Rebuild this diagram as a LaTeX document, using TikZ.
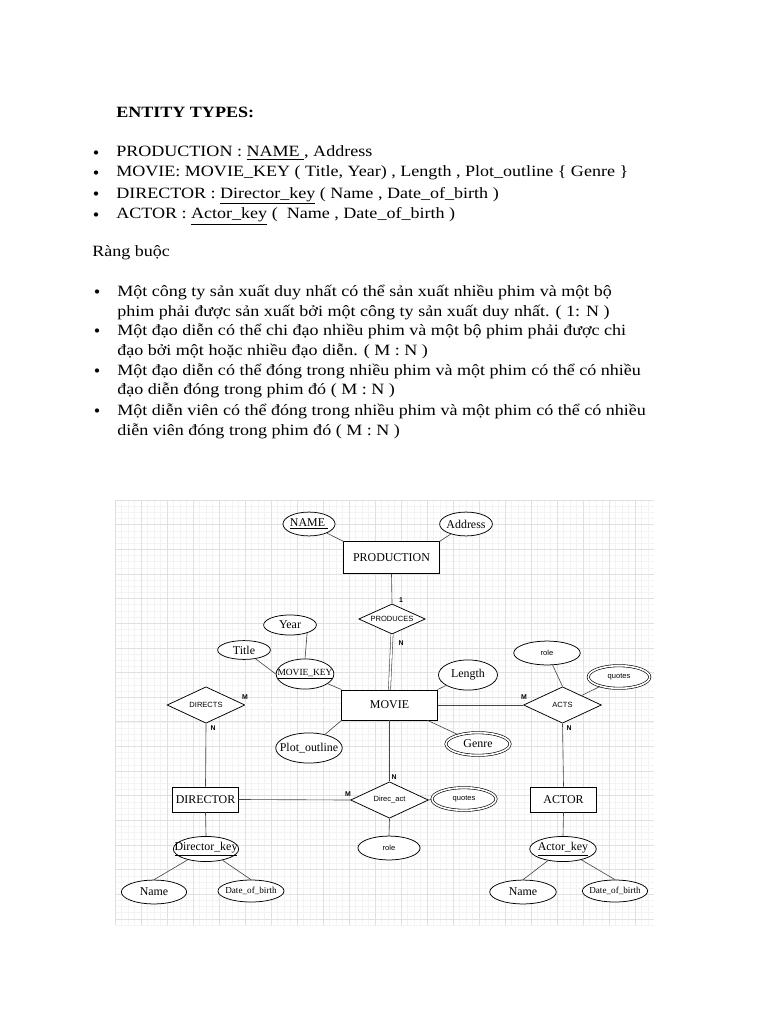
\documentclass[tikz,border=0pt]{standalone}
\usepackage{fontspec}
\usetikzlibrary{shapes.geometric}
\setmainfont{Liberation Serif}
\newfontfamily\bodyfont{Liberation Serif}[FakeStretch=1.15]
\newfontfamily\ersans{Liberation Sans}
\definecolor{gridminor}{RGB}{243,243,243}
\definecolor{gridmajor}{RGB}{224,224,224}
\definecolor{linkgray}{RGB}{70,70,70}
\newcommand{\zw}[1]{\makebox[0pt]{#1}}

\tikzset{
  txt/.style={anchor=base west,inner sep=0pt,font=\bodyfont\fontsize{12.5pt}{15pt}\selectfont},
  bdot/.style={circle,fill=black,inner sep=0pt,minimum size=3.4pt},
  entity/.style={draw,fill=white,rectangle,inner sep=0pt,line width=0.6pt,font=\fontsize{9.5pt}{11pt}\selectfont},
  attr/.style={draw,fill=white,ellipse,inner sep=0pt,line width=0.6pt,font=\fontsize{9.5pt}{11pt}\selectfont},
  mattr/.style={attr,double,double distance=1.3pt,line width=0.5pt},
  rel/.style={draw,fill=white,diamond,inner sep=0pt,line width=0.6pt,font=\ersans\fontsize{6pt}{7pt}\selectfont},
  card/.style={inner sep=0pt,font=\ersans\bfseries\fontsize{5.5pt}{6pt}\selectfont},
  link/.style={draw=linkgray,line width=0.5pt},
  dlink/.style={draw=linkgray,double,double distance=1.3pt,line width=0.45pt},
}

\begin{document}
\begin{tikzpicture}[x=0.028cm,y=-0.028cm]
  \useasboundingbox (0,0) rectangle (768,1024);

  % text above the diagram
  \node[txt] (title) at (116,118) {\bfseries ENTITY TYPES:};
  \foreach \yb in {157,177,198,219} \node[bdot] at (96,\yb-4.5) {};
  \node[txt] (e1) at (116,157) {PRODUCTION : \underline{NAME\ }, Address};
  \node[txt] (e2) at (116,177) {MOVIE: MOVIE\_KEY ( Title, Year) , Length , Plot\_outline \{ Genre \}};
  \node[txt] (e3) at (116,198) {DIRECTOR : \underline{Director\_key} ( Name , Date\_of\_birth )};
  \node[txt] (e4) at (116,219) {ACTOR : \underline{Actor\_key} (\ \ Name , Date\_of\_birth )};

  \node[txt] (rb) at (92,256) {Ràng buộc};
  \foreach \yb in {296,335,375,415} \node[bdot] at (97,\yb-4.5) {};
  \node[txt] (r1) at (117,296) {Một công ty sản xuất duy nhất có thể sản xuất nhiều phim và một bộ};
  \node[txt] (r2) at (117,316) {phim phải được sản xuất bởi một công ty sản xuất duy nhất. ( 1: N )};
  \node[txt] (r3) at (117,335) {Một đạo diễn có thể chi đạo nhiều phim và một bộ phim phải được chi};
  \node[txt] (r4) at (117,355) {đạo bởi một hoặc nhiều đạo diễn. ( M : N )};
  \node[txt] (r5) at (117,375) {Một đạo diễn có thể đóng trong nhiều phim và một phim có thể có nhiều};
  \node[txt] (r6) at (117,394) {đạo diễn đóng trong phim đó ( M : N )};
  \node[txt] (r7) at (117,415) {Một diễn viên có thể đóng trong nhiều phim và một phim có thể có nhiều};
  \node[txt] (r8) at (117,435) {diễn viên đóng trong phim đó ( M : N )};

  % grid
  \foreach \i in {0,...,82} \draw[gridminor,line width=0.4pt] ({115+\i*6.5},500) -- ({115+\i*6.5},925);
  \foreach \j in {0,...,69} \draw[gridminor,line width=0.4pt] (115,{500+\j*6.16}) -- (654,{500+\j*6.16});
  \foreach \i in {0,...,20} \draw[gridmajor,line width=0.45pt] ({115+\i*26},500) -- ({115+\i*26},925);
  \foreach \j in {0,...,17} \draw[gridmajor,line width=0.45pt] (115,{500+\j*24.64}) -- (654,{500+\j*24.64});

  % entities and relationships
  \node[entity,minimum width=76pt,minimum height=25pt] (production) at (391.5,557.5) {PRODUCTION};
  \node[entity,minimum width=76pt,minimum height=24pt] (movie) at (389.5,705) {MOVIE};
  \node[entity,minimum width=52pt,minimum height=20pt] (director) at (205.5,799.5) {DIRECTOR};
  \node[entity,minimum width=52pt,minimum height=20pt] (actor) at (563.5,799.5) {ACTOR};
  \node[rel,minimum width=53pt,minimum height=24pt] (produces) at (392,619) {\zw{PRODUCES}};
  \node[rel,minimum width=62pt,minimum height=29pt] (directs) at (206,705) {\zw{DIRECTS}};
  \node[rel,minimum width=62pt,minimum height=29pt] (acts) at (562.5,705) {\zw{ACTS}};
  \node[rel,minimum width=62pt,minimum height=29pt] (direcact) at (389.5,800) {\zw{Direc\_act}};

  % attributes
  \node[attr,minimum width=41.5pt,minimum height=19pt] (pname) at (309,524) {\zw{\underline{NAME\ }}};
  \node[attr,minimum width=42pt,minimum height=19pt] (address) at (466,524) {\zw{Address}};
  \node[attr,minimum width=42pt,minimum height=16pt] (year) at (290,625) {\zw{Year}};
  \node[attr,minimum width=42pt,minimum height=15pt] (mtitle) at (244,650) {\zw{Title}};
  \node[attr,minimum width=46pt,minimum height=24pt,font=\fontsize{7.5pt}{9pt}\selectfont] (moviekey) at (305,674) {\zw{\underline{MOVIE\_KEY}}};
  \node[attr,minimum width=47pt,minimum height=24pt] (length) at (468,675) {\zw{Length}};
  \node[attr,minimum width=53pt,minimum height=24pt] (plot) at (309,748) {\zw{Plot\_outline}};
  \node[mattr,minimum width=51pt,minimum height=18pt] (genre) at (478,744) {\zw{Genre}};
  \node[attr,minimum width=53pt,minimum height=19pt,font=\ersans\fontsize{6pt}{7pt}\selectfont] (arole) at (547,653) {\zw{role}};
  \node[mattr,minimum width=49pt,minimum height=18pt,font=\ersans\fontsize{6pt}{7pt}\selectfont] (aquotes) at (619,677) {\zw{quotes}};
  \node[mattr,minimum width=51pt,minimum height=18pt,font=\ersans\fontsize{6pt}{7pt}\selectfont] (dquotes) at (464,799) {\zw{quotes}};
  \node[attr,minimum width=49.5pt,minimum height=19pt,font=\ersans\fontsize{6pt}{7pt}\selectfont] (drole) at (389,848) {\zw{role}};
  \node[attr,minimum width=52pt,minimum height=20pt] (dirkey) at (206,849) {\zw{\underline{Director\_key}}};
  \node[attr,minimum width=52pt,minimum height=19pt] (dname) at (154,892) {\zw{Name}};
  \node[attr,minimum width=52.6pt,minimum height=17.5pt,font=\fontsize{7.3pt}{9pt}\selectfont] (ddob) at (251,891) {\zw{Date\_of\_birth}};
  \node[attr,minimum width=53pt,minimum height=20pt] (actkey) at (563,849) {\zw{\underline{Actor\_key}}};
  \node[attr,minimum width=53pt,minimum height=19pt] (aname) at (523,892) {\zw{Name}};
  \node[attr,minimum width=52pt,minimum height=17.5pt,font=\fontsize{7.3pt}{9pt}\selectfont] (adob) at (615,891) {\zw{Date\_of\_birth}};

  % connectors
  \draw[link] (pname) -- (production.north west);
  \draw[link] (address) -- (production.north east);
  \draw[link] (production.south) -- (produces.north);
  \draw[dlink] (produces.south) -- (movie.north);
  \draw[link] (year.-25) -- (moviekey.north);
  \draw[link] (mtitle) -- (moviekey.west);
  \draw[link] (moviekey) -- (movie.north west);
  \draw[link] (length) -- (movie.north east);
  \draw[link] (plot) -- (movie.south west);
  \draw[link] (genre) -- (movie.-22);
  \draw[dlink] (directs.east) -- (movie.west);
  \draw[link] (movie.east) -- (acts.west);
  \draw[link] (arole) -- (acts.north);
  \draw[link] (acts) -- (aquotes);
  \draw[link] (directs.south) -- (director.north);
  \draw[link] (acts.south) -- (actor.north);
  \draw[link] (movie.south) -- (direcact.north);
  \draw[link] (director.east) -- (direcact.west);
  \draw[link] (direcact.east) -- (dquotes.west);
  \draw[link] (direcact.south) -- (drole.north);
  \draw[link] (director.south) -- (dirkey.north);
  \draw[link] (dirkey) -- (dname.north);
  \draw[link] (dirkey) -- (ddob.north);
  \draw[link] (actor.south) -- (actkey.north);
  \draw[link] (actkey) -- (aname.north);
  \draw[link] (actkey) -- (adob.north);

  % cardinalities
  \node[card] (c1) at (401,600) {1};
  \node[card] (c2) at (401,643) {N};
  \node[card] (c3) at (245,697) {M};
  \node[card] (c4) at (213,728) {N};
  \node[card] (c5) at (524,697) {M};
  \node[card] (c6) at (569,728) {N};
  \node[card] (c7) at (394,777) {N};
  \node[card] (c8) at (348,794) {M};
\end{tikzpicture}
\end{document}
